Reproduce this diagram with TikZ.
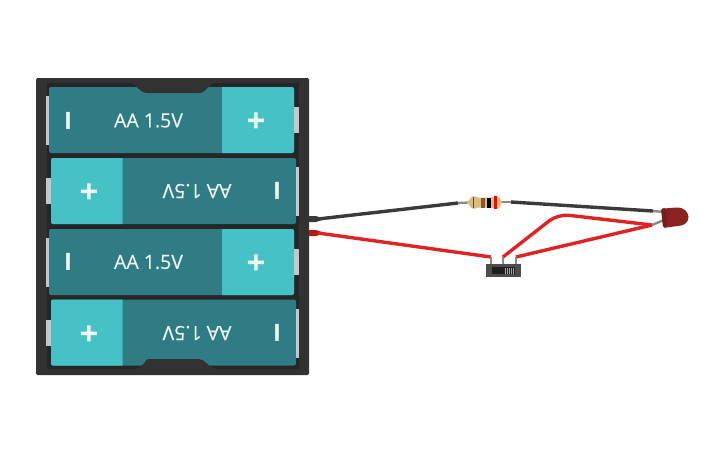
\documentclass[tikz,border=0pt]{standalone}
\usepackage{fontspec}
\setmainfont{Open Sans}
\newfontfamily\cellfont[FakeBold=0.25]{Open Sans}
\definecolor{holder}{HTML}{323232}
\definecolor{holderin}{HTML}{262626}
\definecolor{cellteal}{HTML}{2F7C84}
\definecolor{cellplus}{HTML}{46C2C7}
\definecolor{contact}{HTML}{C6C6C6}
\definecolor{wireblack}{HTML}{3A3A3A}
\definecolor{wirered}{HTML}{E02222}
\definecolor{leadgrey}{HTML}{8A8A8A}
\definecolor{resbody}{HTML}{DDBB7C}
\definecolor{ledred}{HTML}{8A2222}
\definecolor{ledrim}{HTML}{7A1C1C}
\tikzset{
  celltext/.style={text=white!92!cellteal,font=\fontsize{19.5}{19.5}\cellfont,inner sep=0pt},
  minustext/.style={text=white!92!cellteal,font=\fontsize{24}{24}\selectfont\bfseries,inner sep=0pt},
  plustext/.style={text=white!92!cellplus,font=\fontsize{33}{33}\selectfont\bfseries,inner sep=0pt},
  blackwire/.style={draw=wireblack,line width=3.4pt},
  redwire/.style={draw=wirered,line width=3.4pt},
  leadwire/.style={draw=leadgrey,line width=2.4pt}
}
\begin{document}
\begin{tikzpicture}[x=1pt,y=-1pt]
\useasboundingbox (0,0) rectangle (725,453);
% holder
\fill[holder,rounded corners=1.5] (36,78) rectangle (309,375);
\fill[holderin] (46.5,83) rectangle (299,369);
% cells
\foreach \ytop in {87,229} {
  \fill[cellteal,rounded corners=2] (49,\ytop) rectangle (294,\ytop+66);
  \fill[cellplus] (222,\ytop) [rounded corners=2] -- (294,\ytop) -- (294,\ytop+66) [sharp corners] -- (222,\ytop+66) -- cycle;
  \fill[contact] (46,\ytop+9) rectangle (49,\ytop+58);
  \fill[contact] (294,\ytop+20) rectangle (299,\ytop+46);
}
\foreach \ytop in {158,299.5} {
  \fill[cellteal,rounded corners=2] (51,\ytop) rectangle (296,\ytop+66);
  \fill[cellplus] (122.5,\ytop) [rounded corners=2] -- (51,\ytop) -- (51,\ytop+66) [sharp corners] -- (122.5,\ytop+66) -- cycle;
  \fill[contact] (46,\ytop+20) rectangle (51,\ytop+46);
  \fill[contact] (296,\ytop+9) rectangle (299,\ytop+58);
}
% notches
\fill[holder] (130,83) .. controls (138,84) and (138,93) .. (148,93) -- (199,93) .. controls (207,93) and (207,84) .. (215,83) -- cycle;
\fill[holder] (135,369) .. controls (146,367) and (143,359) .. (150,359) -- (199,359) .. controls (206,359) and (206,367) .. (217,369) -- cycle;
% labels
\node[celltext] (labela) at (148.5,120.5) {AA 1.5V};
\node[celltext,rotate=180] (labelb) at (197,191) {AA 1.5V};
\node[celltext] (labelc) at (148.5,262) {AA 1.5V};
\node[celltext,rotate=180] (labeld) at (197,333) {AA 1.5V};
\node[minustext] (minusa) at (68,120.5) {I};
\node[minustext] (minusb) at (277,191) {I};
\node[minustext] (minusc) at (68,262) {I};
\node[minustext] (minusd) at (277,333) {I};
\node[plustext] (plusa) at (256,123) {+};
\node[plustext] (plusb) at (89,194) {+};
\node[plustext] (plusc) at (256,265) {+};
\node[plustext] (plusd) at (89,336) {+};
% connection points
\coordinate (battblack) at (318,219);
\coordinate (battred) at (318,233);
\coordinate (resleft) at (458,203);
\coordinate (resright) at (511,202);
\coordinate (swa) at (491,257);
\coordinate (swb) at (503,257);
\coordinate (swc) at (516,257);
\coordinate (wirebend) at (558,214);
\coordinate (ledtop) at (653,211);
\coordinate (ledlow) at (652,225);
% wires
\fill[wireblack] (309,216) -- (316,216) -- (322,218) -- (322,220) -- (316,222) -- (309,222) -- cycle;
\fill[wirered!80!black] (309,230) -- (316,230) -- (322,232) -- (322,234) -- (316,236) -- (309,236) -- cycle;
\draw[blackwire] (battblack) -- (resleft);
\draw[blackwire] (resright) -- (ledtop);
\draw[redwire] (battred) -- (swa);
\draw[redwire,rounded corners=11] (swb) -- (wirebend) -- (ledlow);
\draw[redwire] (swc) -- (ledlow);
% resistor
\draw[leadwire] (resleft) -- (470,202.5);
\draw[leadwire] (resright) -- (498,202);
\fill[resbody] (467,202.5) -- (472,196.5) .. controls (474,195) and (476,197) .. (478,197.5) -- (492,197.5) .. controls (494,197) and (497,195) .. (499,196.5) -- (502,202.5) -- (499,208.5) .. controls (497,210) and (494,208) .. (492,207.5) -- (478,207.5) .. controls (476,208) and (474,210) .. (472,208.5) -- cycle;
\fill[black!60!resbody] (473,197) rectangle (474,208);
\fill[brown!70!black] (481,197.5) rectangle (484.5,207.5);
\fill[black] (487,197.5) rectangle (491,207.5);
\fill[red] (493.5,196) rectangle (497,209);
% switch
\draw[leadwire] (swa) -- (491,265);
\draw[leadwire] (swb) -- (503,265);
\draw[leadwire] (swc) -- (516,265);
\fill[black!70] (486,264) rectangle (521,277);
\fill[black!88] (492,267) rectangle (515,274);
\foreach \xs in {505,507,509,511,513} {
  \fill[black!35] (\xs,267.5) rectangle (\xs+1.2,273.5);
}
% led
\draw[leadwire] (ledtop) -- (664,212);
\draw[leadwire] (ledlow) -- (664,220);
\fill[ledred] (664,208.5) -- (676,207.5) .. controls (684,207) and (688,212) .. (688.5,216.5) .. controls (689,221) and (685,226) .. (678,226) -- (666,227.5) -- cycle;
\fill[ledrim,rounded corners=2] (661,208.5) -- (666,208) -- (667,228) -- (663,228) -- cycle;
\end{tikzpicture}
\end{document}
